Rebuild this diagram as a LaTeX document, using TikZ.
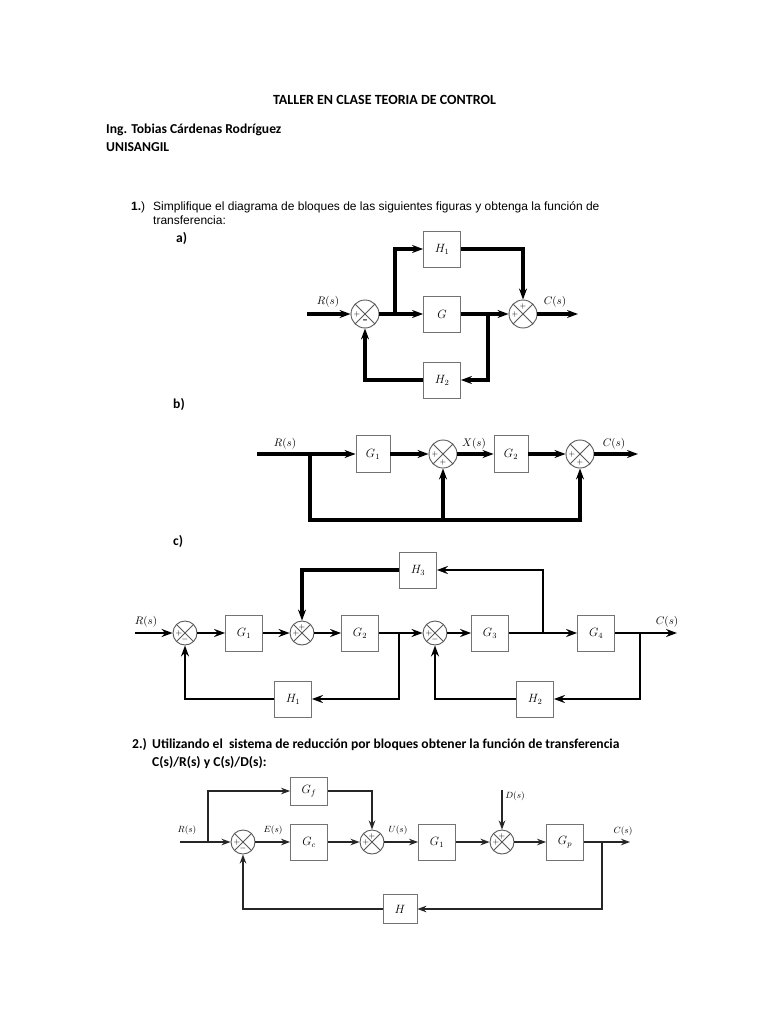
\documentclass[tikz,border=0pt]{standalone}
\usepackage{fontspec}
\setmainfont{Carlito}
\newfontfamily\arialfont{Liberation Sans}
\usetikzlibrary{arrows.meta, calc}
\tikzset{
  blk/.style={draw=black!55, line width=0.8pt, fill=white, minimum width=37pt, minimum height=36pt, inner sep=0pt, font=\fontsize{11.5}{13}\selectfont},
  sumj/.style={circle, draw=black!65, line width=0.9pt, fill=white, minimum size=28pt, inner sep=0pt,
    path picture={\draw[black!65, line width=0.9pt] (path picture bounding box.north west) -- (path picture bounding box.south east)
      (path picture bounding box.north east) -- (path picture bounding box.south west);}},
  sig/.style={-{Stealth[length=11pt, width=8pt]}, line width=3.2pt},
  wire/.style={line width=3.2pt},
  sgn/.style={font=\fontsize{8}{8}\selectfont, inner sep=0pt},
  vlab/.style={font=\fontsize{11}{12}\selectfont, inner sep=0pt},
  hdr/.style={anchor=base west, inner sep=0pt, font=\fontsize{13.6}{15}\bfseries}
}
\newcommand{\sgn}[4]{\node[sgn] (#1) at ($(#2)+#3$) {#4};}

\begin{document}
\begin{tikzpicture}[x=1pt, y=-1pt]
	\fill[white] (0,0) rectangle (768,1024);
	\useasboundingbox (0,0) rectangle (768,1024);
	% heading
	\node[hdr, anchor=base, font=\fontsize{14}{15}\bfseries] (title) at (384.5,105) {TALLER EN CLASE TEORIA DE CONTROL};
	\node[hdr] (author) at (106,134) {Ing. Tobias Cárdenas Rodríguez};
	\node[hdr] (uni) at (106,152) {UNISANGIL};
	\node[hdr, font=\fontsize{12}{14}\arialfont] (q1n) at (131,211) {\textbf{1.})};
	\node[hdr, font=\fontsize{12}{14}\arialfont] (q1a) at (153,211) {Simplifique el diagrama de bloques de las siguientes figuras y obtenga la función de};
	\node[hdr, font=\fontsize{12}{14}\arialfont] (q1b) at (153,225) {transferencia:};
	\node[hdr] (la) at (176,242) {a)};
	\node[hdr] (lb) at (173,408) {b)};
	\node[hdr] (lc) at (173,545) {c)};
	\node[hdr] (q2n) at (132,748) {2.)};
	\node[hdr] (q2a) at (152,748) {Utilizando el\ \ sistema de reducción por bloques obtener la función de transferencia};
	\node[hdr] (q2b) at (152,766) {C(s)/R(s) y C(s)/D(s):};

	% a)
	\node[sumj] (a1) at (365,314) {};
	\node[blk] (ah1) at (442,249) {$H_1$};
	\node[blk] (ag) at (442,314) {$G$};
	\node[blk] (ah2) at (442,380) {$H_2$};
	\node[sumj] (a2) at (523,314) {};
	\coordinate (ain) at (307,314);
	\coordinate (aout) at (578,314);
	\coordinate (ab1) at (395,314);
	\coordinate (ab2) at (488,314);
	\draw[sig] (ain) -- (a1);
	\draw[wire] (a1) -- (ab1);
	\draw[sig] (ab1) -- (ag);
	\draw[sig] (ab1) |- (ah1);
	\draw[sig] (ah1) -| (a2);
	\draw[sig] (ag) -- (a2);
	\draw[sig] (ab2) |- (ah2);
	\draw[sig] (ah2) -| (a1);
	\draw[sig] (a2) -- (aout);
	\node[vlab] (ar) at (328,302) {$R(s)$};
	\node[vlab] (ac) at (555,302) {$C(s)$};
	\sgn{a1p}{a1}{(-8,0)}{$+$}
	\sgn{a1m}{a1}{(0,8)}{\fontsize{11}{11}\selectfont\textbf{--}}
	\sgn{a2t}{a2}{(0,-8)}{$+$}
	\sgn{a2l}{a2}{(-8,0)}{$+$}

	% b)
	\node[blk, minimum width=34pt, minimum height=37pt] (bg1) at (373,454) {$G_1$};
	\node[sumj] (b1) at (443,454) {};
	\node[blk, minimum width=34pt, minimum height=37pt] (bg2) at (511,454) {$G_2$};
	\node[sumj] (b2) at (580,454) {};
	\coordinate (bin) at (257,454);
	\coordinate (bb) at (310,454);
	\coordinate (bbot) at (310,520);
	\coordinate (bout) at (638,454);
	\draw[sig] (bin) -- (bg1);
	\draw[sig] (bg1) -- (b1);
	\draw[sig] (b1) -- (bg2);
	\draw[sig] (bg2) -- (b2);
	\draw[sig] (b2) -- (bout);
	\draw[sig] (bb) -- (bbot) -| (b2);
	\draw[sig] (b1 |- bbot) -- (b1);
	\node[vlab] (br) at (285,444) {$R(s)$};
	\node[vlab] (bx) at (474,444) {$X(s)$};
	\node[vlab] (bc) at (614,444) {$C(s)$};
	\sgn{b1l}{b1}{(-8,0)}{$+$}
	\sgn{b1b}{b1}{(0,8)}{$+$}
	\sgn{b2l}{b2}{(-8,0)}{$+$}
	\sgn{b2b}{b2}{(0,8)}{$+$}

	% c)
	\begin{scope}[every node/.append style={minimum width=35pt, minimum height=32pt}]
	\node[sumj, minimum size=24pt] (c1) at (185,633) {};
	\node[blk] (cg1) at (244,633) {$G_1$};
	\node[sumj, minimum size=24pt] (c2) at (302,633) {};
	\node[blk] (cg2) at (360,633) {$G_2$};
	\node[sumj, minimum size=24pt] (c3) at (435,633) {};
	\node[blk] (cg3) at (490,633) {$G_3$};
	\node[blk] (cg4) at (596,633) {$G_4$};
	\node[blk] (ch1) at (293,699) {$H_1$};
	\node[blk] (ch2) at (535,699) {$H_2$};
	\node[blk] (ch3) at (418,570) {$H_3$};
	\end{scope}
	\coordinate (cin) at (135,633);
	\coordinate (cout) at (677,633);
	\coordinate (cb1) at (399,633);
	\coordinate (cb2) at (543,633);
	\coordinate (cb3) at (640,633);
	\begin{scope}[sig/.append style={line width=2.8pt}]
	\draw[sig] (cin) -- (c1);
	\draw[sig] (c1) -- (cg1);
	\draw[sig] (cg1) -- (c2);
	\draw[sig] (c2) -- (cg2);
	\draw[sig] (cg2) -- (c3);
	\draw[sig] (c3) -- (cg3);
	\draw[sig] (cg3) -- (cg4);
	\draw[sig] (cg4) -- (cout);
	\draw[sig] (cb1) |- (ch1);
	\draw[sig] (ch1) -| (c1);
	\draw[sig] (cb2) |- (ch3);
	\draw[sig, line width=4.2pt] (ch3) -| (c2);
	\draw[sig] (cb3) |- (ch2);
	\draw[sig] (ch2) -| (c3);
	\end{scope}
	\node[vlab] (cr) at (146,622) {$R(s)$};
	\node[vlab] (cc) at (667,622) {$C(s)$};
	\sgn{c1l}{c1}{(-6,0)}{$+$}
	\sgn{c1b}{c1}{(0,6)}{$-$}
	\sgn{c2t}{c2}{(0,-6)}{$+$}
	\sgn{c2l}{c2}{(-6,0)}{$+$}
	\sgn{c3l}{c3}{(-6,0)}{$+$}
	\sgn{c3b}{c3}{(0,6)}{$-$}

	% 2.)
	\begin{scope}[every node/.append style={minimum width=32pt, minimum height=31pt, font=\fontsize{9.5}{10}\selectfont}]
	\node[sumj, minimum size=24pt] (d1) at (243,842) {};
	\node[blk, minimum height=28pt] (dgf) at (309,791) {$G_f$};
	\node[blk] (dgc) at (309,842) {$G_c$};
	\node[sumj, minimum size=24pt] (d2) at (372,842) {};
	\node[blk] (dg1) at (437,842) {$G_1$};
	\node[sumj, minimum size=24pt] (d3) at (502,842) {};
	\node[blk] (dgp) at (565,842) {$G_p$};
	\node[blk, minimum width=34pt, minimum height=29pt] (dh) at (400,909) {$H$};
	\end{scope}
	\coordinate (din) at (180,842);
	\coordinate (db) at (208,842);
	\coordinate (dd) at (502,790);
	\coordinate (dbr) at (602,842);
	\coordinate (dout) at (630,842);
	\begin{scope}[sig/.append style={line width=2.4pt, color=black!85, -{Stealth[length=9pt, width=6.5pt]}}]
	\draw[sig] (din) -- (d1);
	\draw[sig] (db) |- (dgf);
	\draw[sig] (dgf) -| (d2);
	\draw[sig] (d1) -- (dgc);
	\draw[sig] (dgc) -- (d2);
	\draw[sig] (d2) -- (dg1);
	\draw[sig] (dg1) -- (d3);
	\draw[sig] (dd) -- (d3);
	\draw[sig] (d3) -- (dgp);
	\draw[sig] (dgp) -- (dout);
	\draw[sig] (dbr) |- (dh);
	\draw[sig] (dh) -| (d1);
	\end{scope}
	\begin{scope}[vlab/.append style={font=\fontsize{9.5}{10}\selectfont}]
	\node[vlab] (dr) at (187,830) {$R(s)$};
	\node[vlab] (de) at (273,830) {$E(s)$};
	\node[vlab] (du) at (398,830) {$U(s)$};
	\node[vlab] (dds) at (515,796) {$D(s)$};
	\node[vlab] (dc) at (623,831) {$C(s)$};
	\end{scope}
	\sgn{d1l}{d1}{(-6,0)}{$+$}
	\sgn{d1b}{d1}{(0,6)}{$-$}
	\sgn{d2t}{d2}{(0,-6)}{$+$}
	\sgn{d2l}{d2}{(-6,0)}{$+$}
	\sgn{d3t}{d3}{(0,-6)}{$+$}
	\sgn{d3l}{d3}{(-6,0)}{$+$}
\end{tikzpicture}
\end{document}
